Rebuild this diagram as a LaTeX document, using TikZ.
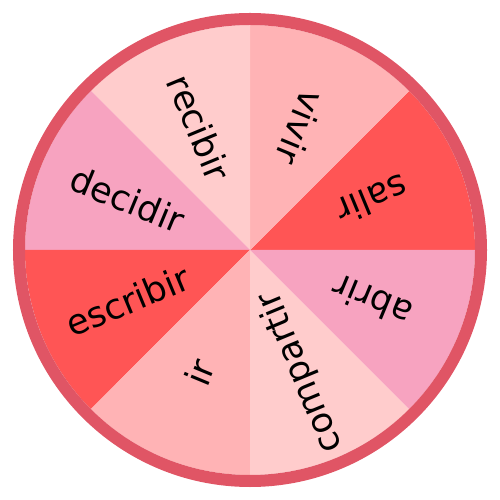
\documentclass[tikz,border=0pt]{standalone}
\usepackage{fontspec}
\setmainfont{DejaVu Sans}
\definecolor{rot}{HTML}{FF5555}
\definecolor{hellrot}{HTML}{FFB3B5}
\definecolor{rosa}{HTML}{FFCCCC}
\definecolor{pink}{HTML}{F7A3C0}
\definecolor{randrot}{HTML}{E05565}
\begin{document}
\begin{tikzpicture}[
        font=\fontsize{20}{24}\selectfont,
        wort/.style={
            anchor=center,
            inner sep=0pt
        },
        rand/.style={
            draw=randrot,
            line width=0.24cm
        }
    ]
    \useasboundingbox (-5,-5) rectangle (5,5);
    % Sektoren mit Verben
    \foreach \verb/\farbe [count=\i from 0] in {salir/rot, vivir/hellrot, recibir/rosa, decidir/pink, escribir/rot, ir/hellrot, compartir/rosa, abrir/pink} {
        \pgfmathsetmacro{\a}{45*\i}
        \fill[\farbe] (0,0) -- (\a:4.5) arc[start angle=\a, end angle=\a+45, radius=4.5] -- cycle;
        \node[wort, rotate=\a+202.5] (verb-\i) at (\a+22.5:2.65) {\verb};
    }
    % Rand
    \draw[rand] (0,0) circle[radius=4.62];
\end{tikzpicture}
\end{document}
